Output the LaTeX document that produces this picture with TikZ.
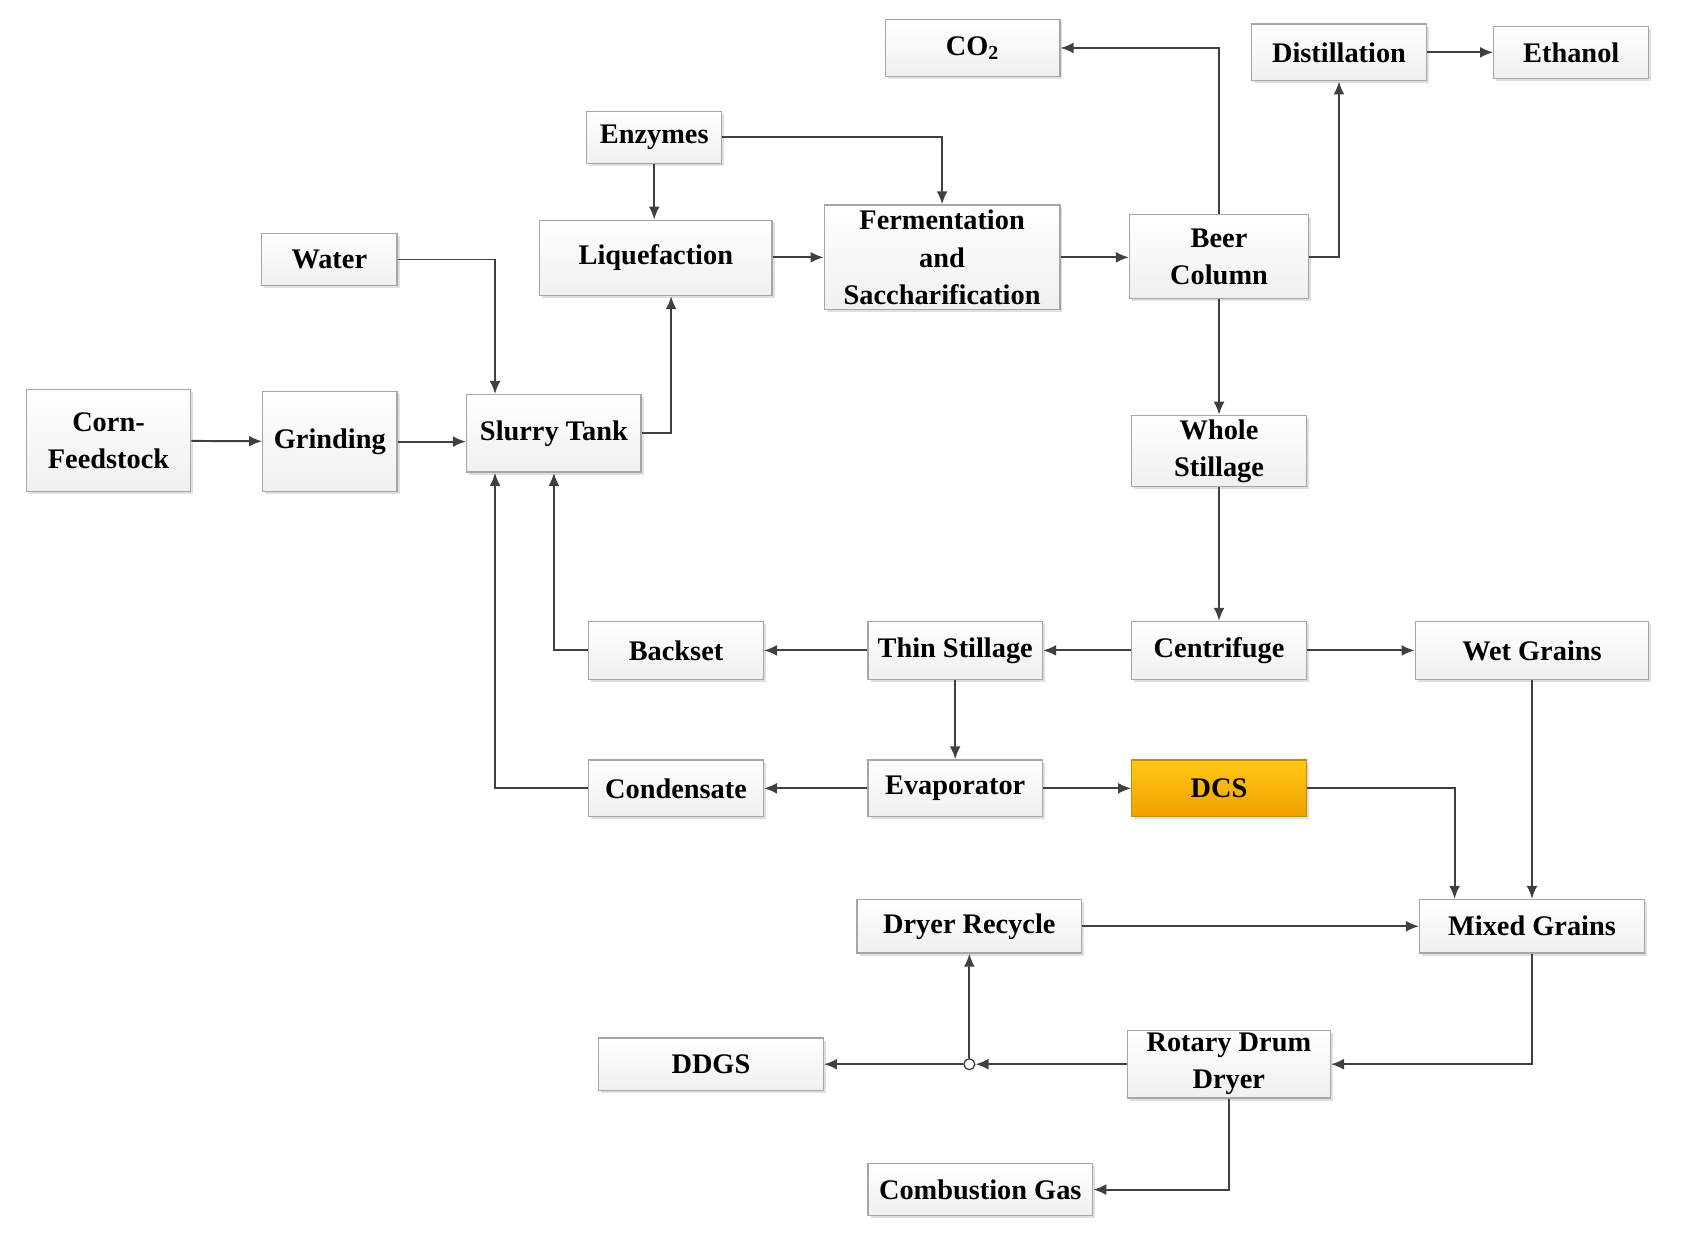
\documentclass[tikz,border=0pt]{standalone}
\usepackage{fontspec}
\setmainfont{Liberation Serif}
\usetikzlibrary{arrows.meta,shadows}
\definecolor{ln}{HTML}{404040}
\tikzset{
 box/.style={draw=gray!70, line width=0.6pt, top color=white, bottom color=gray!12, drop shadow={opacity=0.25,shadow xshift=1.2pt,shadow yshift=-1.2pt}, align=center, inner sep=1pt, font=\fontsize{13}{17}\selectfont\bfseries},
 arr/.style={draw=ln, line width=0.9pt, -{Latex[length=6pt,width=5pt]}},
 ln/.style={draw=ln, line width=0.9pt}
}
\newcommand\bx[7][]{\node[box,#1,minimum width={(#4-#2)*0.5pt},minimum height={(#5-#3)*0.5pt}] (#7) at ({(#2+#4)/2},{(#3+#5)/2}) {#6};}
\begin{document}
\begin{tikzpicture}[x=0.5pt,y=-0.5pt]
\useasboundingbox (0,0) rectangle (1560,1144.5);
\bx{812}{18}{972}{70}{CO\textsubscript{2}}{co2}
\bx{1148}{22}{1308}{74}{Distillation}{dist}
\bx{1370}{24}{1512}{72}{Ethanol}{eth}
\bx{538}{102}{662}{150}{Enzymes}{enz}
\bx{756}{188}{972}{284}{Fermentation\\and\\Saccharification}{ferm}
\bx{1036}{197}{1200}{274}{Beer\\Column}{beer}
\bx{240}{214}{364}{262}{Water}{water}
\bx{495}{202}{708}{271}{Liquefaction}{liq}
\bx{24}{357}{175}{451}{Corn-\\Feedstock}{corn}
\bx{241}{359}{364}{451}{Grinding}{grind}
\bx{428}{362}{588}{433}{Slurry Tank}{slurry}
\bx{1038}{381}{1198}{446}{Whole\\Stillage}{whole}
\bx{540}{570}{700}{623}{Backset}{back}
\bx{796}{570}{956}{623}{Thin Stillage}{thin}
\bx{1038}{570}{1198}{623}{Centrifuge}{cent}
\bx{1298}{570}{1512}{623}{Wet Grains}{wet}
\bx{540}{697}{700}{749}{Condensate}{cond}
\bx{796}{697}{956}{749}{Evaporator}{evap}
\bx[top color={rgb,255:red,255;green,200;blue,20},bottom color={rgb,255:red,240;green,160;blue,0},draw={rgb,255:red,200;green,140;blue,0}]{1038}{697}{1198}{749}{DCS}{dcs}
\bx{786}{825}{992}{874}{Dryer Recycle}{dryrec}
\bx{1302}{825}{1508}{874}{Mixed Grains}{mixed}
\bx{549}{952}{755}{1000}{DDGS}{ddgs}
\bx{1034}{945}{1220}{1007}{Rotary Drum\\Dryer}{rot}
\bx{796}{1067}{1002}{1115}{Combustion Gas}{comb}
\node[circle,draw=ln,fill=white,line width=0.6pt,inner sep=0pt,minimum size=5pt] (j) at (889,976) {};
\draw[arr] (corn) -- (grind);
\draw[arr] (grind) -- (slurry.west |- grind);
\draw[arr] (water.east) -| ([xshift=-27pt]slurry.north);
\draw[arr] (slurry.east) -| ([xshift=7pt]liq.south);
\draw[arr] (enz) -- (enz |- liq.north);
\draw[arr] (enz.east) -| (ferm.north);
\draw[arr] (liq.east |- ferm) -- (ferm.west);
\draw[arr] (ferm.east) -- (beer.west |- ferm);
\draw[arr] (beer.north) |- (co2.east);
\draw[arr] (beer.east) -| (dist.south);
\draw[arr] (dist) -- (eth);
\draw[arr] (beer) -- (whole);
\draw[arr] (whole) -- (cent);
\draw[arr] (cent) -- (thin);
\draw[arr] (cent) -- (wet);
\draw[arr] (thin) -- (back);
\draw[arr] (back.west) -| (slurry.south);
\draw[arr] (thin) -- (evap);
\draw[arr] (evap) -- (cond);
\draw[arr] (evap) -- (dcs);
\draw[arr] (cond.west) -| ([xshift=-27pt]slurry.south);
\draw[arr] (dcs.east) -| ([xshift=-35.5pt]mixed.north);
\draw[arr] (wet) -- (mixed);
\draw[arr] (dryrec) -- (mixed.west |- dryrec);
\draw[arr] (mixed.south) |- (rot.east);
\draw[arr] (rot.west) -- (j);
\draw[arr] (j) -- (ddgs.east |- j);
\draw[arr] (j) -- (dryrec);
\draw[arr] (rot.south) |- (comb.east);
\end{tikzpicture}
\end{document}
